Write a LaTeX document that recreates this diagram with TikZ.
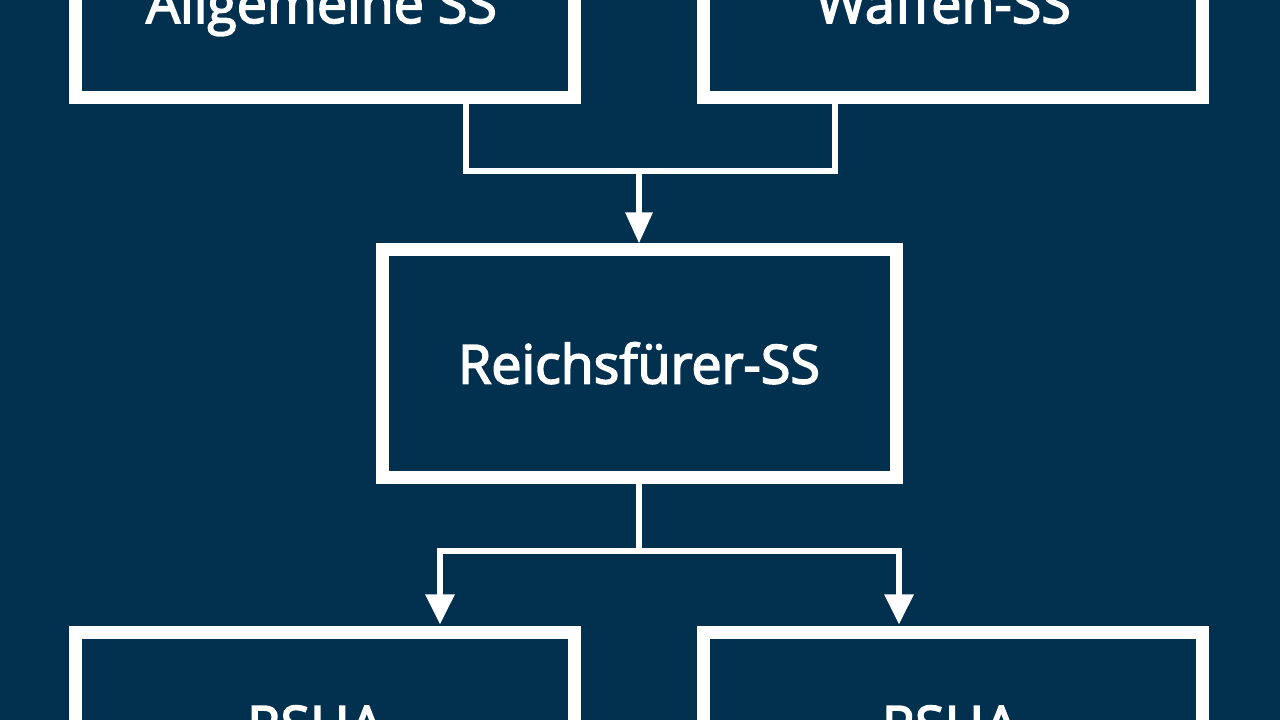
\documentclass[tikz,border=0pt]{standalone}
\usepackage{fontspec}
\usetikzlibrary{positioning,arrows.meta}
\newfontfamily\boxfont{Open Sans}[FakeBold=3]
\definecolor{navybg}{HTML}{02304F}

\tikzset{
  box/.style={draw=white, fill=navybg, rectangle, line width=1.3mm, text=white, font=\boxfont\fontsize{15.3}{18}\selectfont, text height=3.9mm, text depth=0pt},
  smallbox/.style={box, minimum width=4.99cm, minimum height=1.89cm},
  link/.style={draw=white, line width=0.6mm},
  tiptop/.style={link, -{Triangle[length=3.1mm, width=2.6mm]}},
  tipdown/.style={link, -{Triangle[length=3.0mm, width=2.8mm]}, shorten >=0.2mm}
}

\begin{document}
\begin{tikzpicture}
  \clip (0,0) rectangle (12.8,7.2);
  \fill[navybg] (0,0) rectangle (12.8,7.2);

  % Nodes
  \node[box, minimum width=5.14cm, minimum height=2.28cm] (reich) at (6.39,3.56) {Reichsfürer-SS};
  \node[smallbox, above left=1.39cm and -2.05cm of reich] (allg) {\hspace*{-0.6mm}Allgemeine SS};
  \node[smallbox, above right=1.39cm and -2.06cm of reich] (waffen) {\hspace*{-1.8mm}Waffen-SS};
  \node[smallbox, minimum height=1.84cm, below left=1.42cm and -2.05cm of reich] (rshaa) {\hspace*{-1.8mm}RSHA};
  \node[smallbox, minimum height=1.84cm, below right=1.42cm and -2.06cm of reich] (rshab) {\hspace*{-0.5mm}RSHA};

  % Joints
  \coordinate[above=0.72cm of reich.north] (jointop);
  \coordinate[below=0.67cm of reich.south] (joinbot);

  % Arrows
  \draw[link, line join=miter] ([xshift=1.41cm]allg.south) |- (jointop) -| ([xshift=-1.175cm]waffen.south);
  \draw[tiptop] (jointop) -- (reich.north);
  \draw[link] (reich.south) -- (joinbot);
  \draw[tipdown] (joinbot) -| ([xshift=1.155cm]rshaa.north);
  \draw[tipdown] (joinbot) -| ([xshift=-0.535cm]rshab.north);
\end{tikzpicture}
\end{document}
